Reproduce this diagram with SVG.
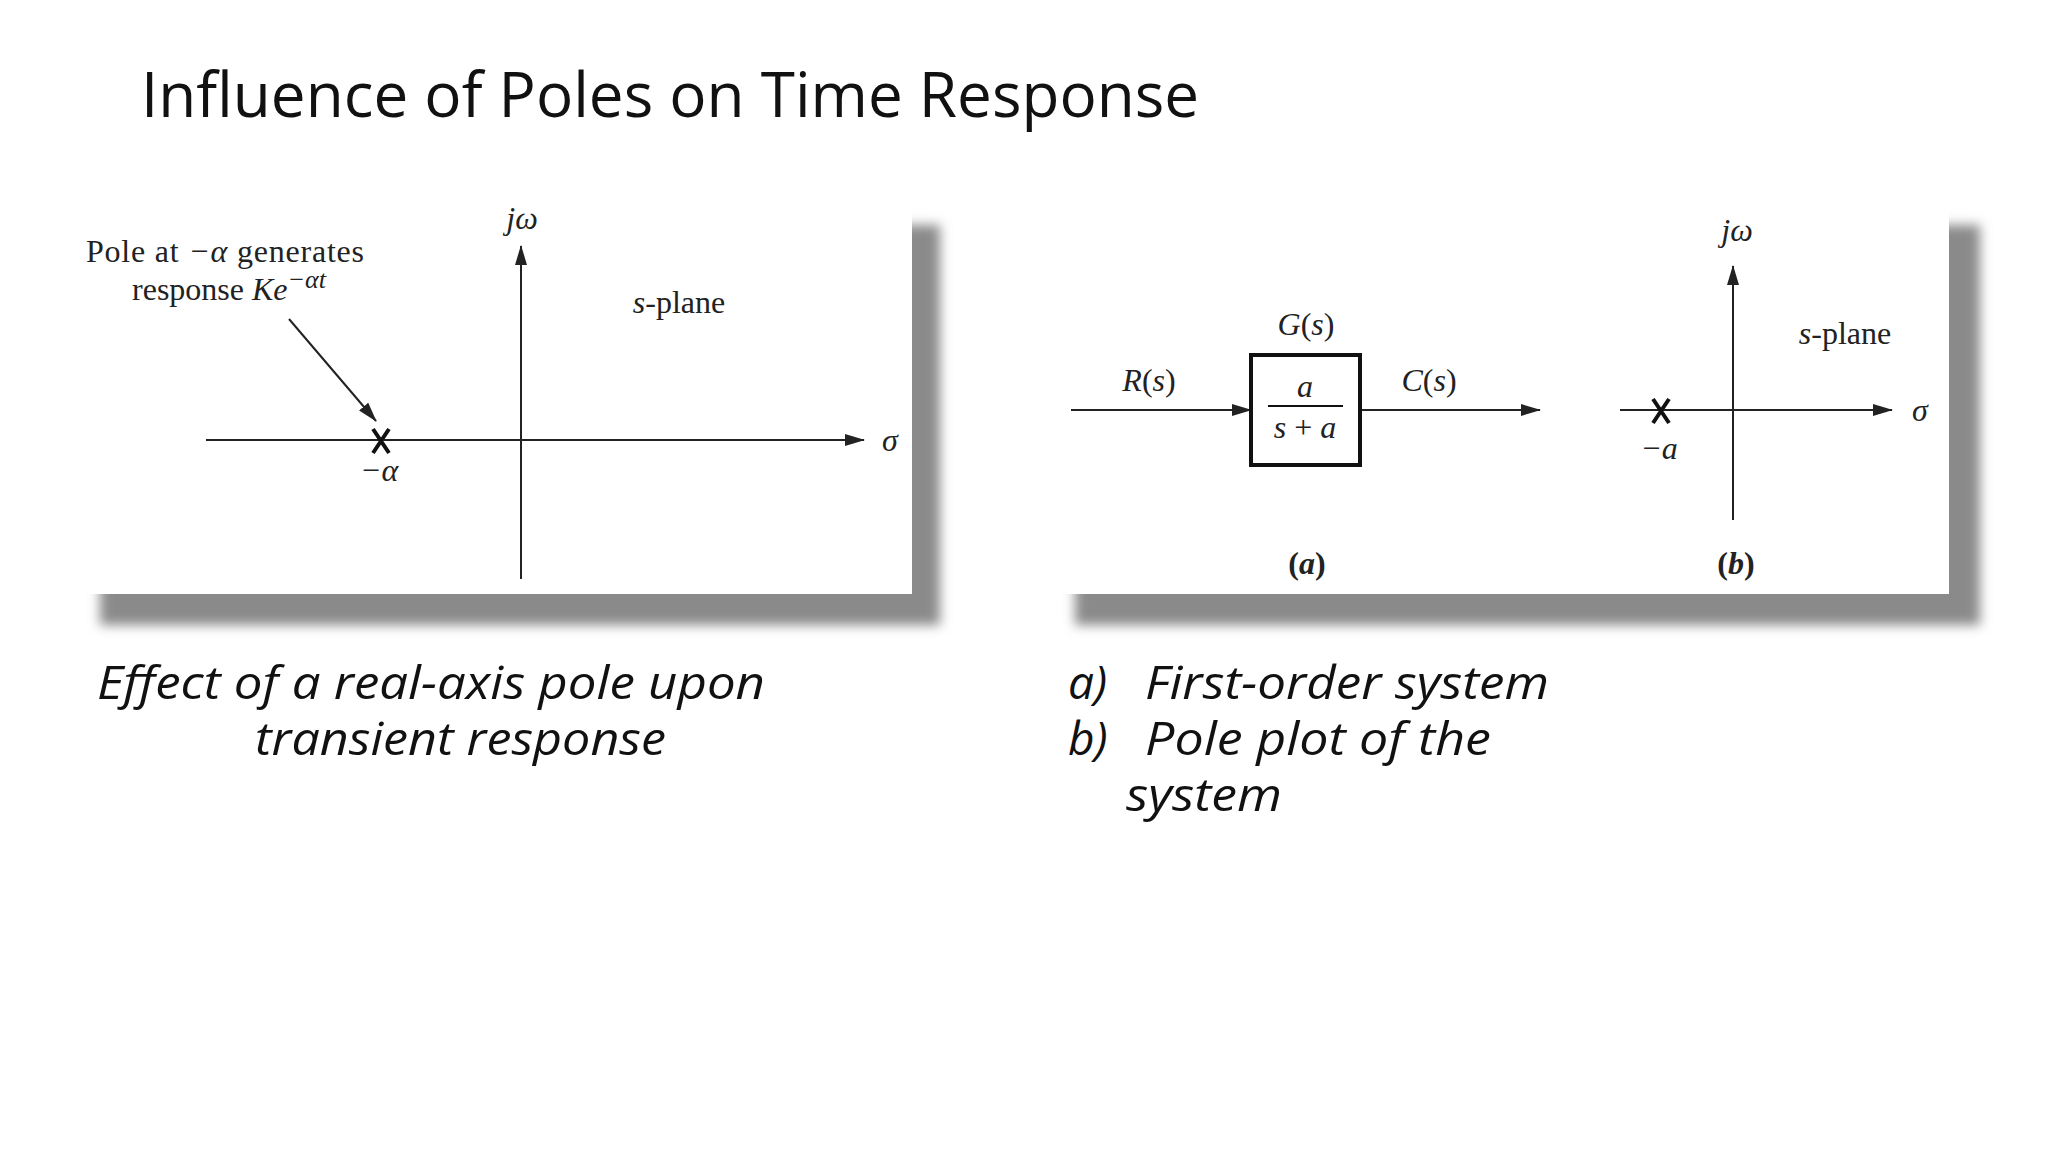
<svg xmlns="http://www.w3.org/2000/svg" width="2048" height="1152" viewBox="0 0 2048 1152">
<style>
.t{font-family:"Liberation Serif",serif;font-size:32px;fill:#222}
.i{font-style:italic}
.ax{stroke:#222;stroke-width:2;fill:none}
.cap{font-family:"Open Sans","Noto Sans",sans-serif;font-style:italic;font-size:46px;fill:#111}
</style>
<defs>
<marker id="ah" markerWidth="20" markerHeight="12" refX="19" refY="6" orient="auto" markerUnits="userSpaceOnUse"><path d="M0,0 L20,6 L0,12 Z" fill="#222"/></marker>
<filter id="sh" x="-10%" y="-10%" width="130%" height="130%"><feGaussianBlur stdDeviation="6"/></filter>
</defs>
<rect width="2048" height="1152" fill="#fff"/>
<text x="141" y="117" font-family="Open Sans,Noto Sans,sans-serif" font-size="62" fill="#111">Influence of Poles on Time Response</text>
<g id="left-panel">
<rect x="100" y="225" width="840" height="400" fill="#8a8a8a" filter="url(#sh)"/>
<rect x="78" y="199" width="834" height="395" fill="#fff"/>
</g>
<g id="right-panel">
<rect x="1075" y="225" width="905" height="400" fill="#8a8a8a" filter="url(#sh)"/>
<rect x="1051" y="199" width="898" height="395" fill="#fff"/>
</g>
<g id="connectors">
<line class="ax" x1="521" y1="579" x2="521" y2="246" marker-end="url(#ah)"/>
<line class="ax" x1="206" y1="440" x2="864" y2="440" marker-end="url(#ah)"/>
<line class="ax" x1="289" y1="319" x2="376" y2="421" marker-end="url(#ah)"/>
<line class="ax" x1="1071" y1="410" x2="1251" y2="410" marker-end="url(#ah)"/>
<line class="ax" x1="1360" y1="410" x2="1540" y2="410" marker-end="url(#ah)"/>
<line class="ax" x1="1733" y1="520" x2="1733" y2="266" marker-end="url(#ah)"/>
<line class="ax" x1="1620" y1="410" x2="1892" y2="410" marker-end="url(#ah)"/>
</g>
<g id="pole-left">
<path d="M373,429 L389,453 M389,429 L373,453" stroke="#111" stroke-width="4"/>
<text class="t i" x="379" y="481" text-anchor="middle">−α</text>
</g>
<g id="left-labels">
<text class="t i" x="522" y="229" text-anchor="middle">jω</text>
<text class="t i" x="890" y="451" text-anchor="middle">σ</text>
<text class="t" x="225" y="262" text-anchor="middle" textLength="278">Pole at <tspan class="i">−α</tspan> generates</text>
<text class="t" x="229" y="300" text-anchor="middle">response <tspan class="i">Ke</tspan><tspan class="i" dy="-12" font-size="26">−αt</tspan></text>
<text class="t" x="679" y="313" text-anchor="middle"><tspan class="i">s</tspan>-plane</text>
</g>
<g id="block">
<rect x="1251" y="355" width="109" height="110" fill="#fff" stroke="#111" stroke-width="4"/>
<text class="t i" x="1305" y="397" text-anchor="middle">a</text>
<line x1="1268" y1="406" x2="1343" y2="406" stroke="#111" stroke-width="2"/>
<text class="t" x="1305" y="438" text-anchor="middle"><tspan class="i">s</tspan> + <tspan class="i">a</tspan></text>
<text class="t" x="1306" y="335" text-anchor="middle"><tspan class="i">G</tspan>(<tspan class="i">s</tspan>)</text>
</g>
<g id="right-labels">
<text class="t" x="1149" y="391" text-anchor="middle"><tspan class="i">R</tspan>(<tspan class="i">s</tspan>)</text>
<text class="t" x="1429" y="391" text-anchor="middle"><tspan class="i">C</tspan>(<tspan class="i">s</tspan>)</text>
<path d="M1653,399 L1669,423 M1669,399 L1653,423" stroke="#111" stroke-width="4"/>
<text class="t i" x="1659" y="459" text-anchor="middle">−a</text>
<text class="t i" x="1737" y="241" text-anchor="middle">jω</text>
<text class="t i" x="1920" y="421" text-anchor="middle">σ</text>
<text class="t" x="1845" y="344" text-anchor="middle"><tspan class="i">s</tspan>-plane</text>
<text class="t" x="1307" y="574" text-anchor="middle" font-weight="bold">(<tspan class="i">a</tspan>)</text>
<text class="t" x="1736" y="574" text-anchor="middle" font-weight="bold">(<tspan class="i">b</tspan>)</text>
</g>
<g id="captions">
<text class="cap" x="97" y="699" textLength="668" lengthAdjust="spacingAndGlyphs">Effect of a real-axis pole upon</text>
<text class="cap" x="255" y="755" textLength="411" lengthAdjust="spacingAndGlyphs">transient response</text>
<text class="cap" x="1068" y="699">a)</text>
<text class="cap" x="1145" y="699" textLength="404" lengthAdjust="spacingAndGlyphs">First-order system</text>
<text class="cap" x="1068" y="755">b)</text>
<text class="cap" x="1145" y="755" textLength="346" lengthAdjust="spacingAndGlyphs">Pole plot of the</text>
<text class="cap" x="1126" y="811" textLength="156" lengthAdjust="spacingAndGlyphs">system</text>
</g>
</svg>
